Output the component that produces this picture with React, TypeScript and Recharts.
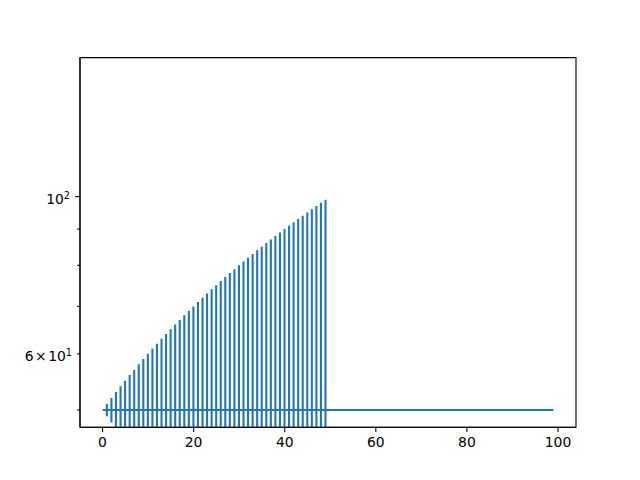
import React from 'react';
import { ComposedChart, Line, Bar, XAxis, YAxis, ReferenceArea } from 'recharts';

const xValues = [
  0, 1, 2, 3, 4, 5, 6, 7, 8, 9, 10, 11, 12, 13, 14, 15, 16, 17, 18, 19,
  20, 21, 22, 23, 24, 25, 26, 27, 28, 29, 30, 31, 32, 33, 34, 35, 36, 37, 38, 39,
  40, 41, 42, 43, 44, 45, 46, 47, 48, 49, 50, 51, 52, 53, 54, 55, 56, 57, 58, 59,
  60, 61, 62, 63, 64, 65, 66, 67, 68, 69, 70, 71, 72, 73, 74, 75, 76, 77, 78, 79,
  80, 81, 82, 83, 84, 85, 86, 87, 88, 89, 90, 91, 92, 93, 94, 95, 96, 97, 98, 99,
];

const yValues = [
  50, 50, 50, 50, 50, 50, 50, 50, 50, 50, 50, 50, 50, 50, 50, 50, 50, 50, 50, 50,
  50, 50, 50, 50, 50, 50, 50, 50, 50, 50, 50, 50, 50, 50, 50, 50, 50, 50, 50, 50,
  50, 50, 50, 50, 50, 50, 50, 50, 50, 50, 50, 50, 50, 50, 50, 50, 50, 50, 50, 50,
  50, 50, 50, 50, 50, 50, 50, 50, 50, 50, 50, 50, 50, 50, 50, 50, 50, 50, 50, 50,
  50, 50, 50, 50, 50, 50, 50, 50, 50, 50, 50, 50, 50, 50, 50, 50, 50, 50, 50, 50,
];

const yErrors = [
  0, 1, 2, 3, 4, 5, 6, 7, 8, 9, 10, 11, 12, 13, 14, 15, 16, 17, 18, 19,
  20, 21, 22, 23, 24, 25, 26, 27, 28, 29, 30, 31, 32, 33, 34, 35, 36, 37, 38, 39,
  40, 41, 42, 43, 44, 45, 46, 47, 48, 49, 0, 0, 0, 0, 0, 0, 0, 0, 0, 0,
  0, 0, 0, 0, 0, 0, 0, 0, 0, 0, 0, 0, 0, 0, 0, 0, 0, 0, 0, 0,
  0, 0, 0, 0, 0, 0, 0, 0, 0, 0, 0, 0, 0, 0, 0, 0, 0, 0, 0, 0,
];

const xTicks = [0, 20, 40, 60, 80, 100];
const yTicks = [50, 60, 70, 80, 90, 100];
const xDomain: [number, number] = [-4.95, 103.95];
const yDomain: [number, number] = [47.28, 157.1];

// error bars are drawn as ranged bars [y - err, y + err]; zero-length ones are skipped
const data = xValues.map((x, i) => ({
  x,
  y: yValues[i],
  range: yErrors[i] > 0 ? [yValues[i] - yErrors[i], yValues[i] + yErrors[i]] : null,
}));

const COLOR = '#1f77b4';
const FONT = 'DejaVu Sans';
const FS = 13.9;

const YTick = (props: any) => {
  const { x, y, payload } = props;
  const v = payload.value;
  const major = v === 100;
  const len = major ? 4.9 : 2.8;
  return (
    <g>
      <line x1={x - len} x2={x} y1={y} y2={y} stroke="#000" strokeWidth={1.1} />
      {v === 100 && (
        <text x={x - 10} y={y + 7} textAnchor="end" fontFamily={FONT} fontSize={FS} fill="#000">
          <tspan>10</tspan>
          <tspan dy={-5} fontSize={9.7}>2</tspan>
        </text>
      )}
      {v === 60 && (
        <text x={x - 8} y={y + 7.5} textAnchor="end" fontFamily={FONT} fontSize={FS} fill="#000">
          <tspan>6</tspan>
          <tspan dx={1.5}>×</tspan>
          <tspan dx={1.5}>10</tspan>
          <tspan dy={-5} fontSize={9.7}>1</tspan>
        </text>
      )}
    </g>
  );
};

export default function App() {
  return (
    <div style={{ position: 'absolute', left: 0, top: 0, width: 640, height: 480, background: '#fff' }}>
      <ComposedChart
        width={640}
        height={480}
        data={data}
        margin={{ top: 57.6, right: 64, bottom: 0, left: 0 }}
      >
        <XAxis
          dataKey="x"
          type="number"
          domain={xDomain}
          ticks={xTicks}
          allowDataOverflow
          height={52.8}
          tickSize={4.9}
          tickMargin={5}
          tickLine={{ stroke: '#000', strokeWidth: 1.1 }}
          axisLine={{ stroke: '#000', strokeWidth: 1.1 }}
          tick={{ fill: '#000', fontSize: FS, fontFamily: FONT }}
        />
        <YAxis
          type="number"
          scale="log"
          domain={yDomain}
          ticks={yTicks}
          allowDataOverflow
          width={80}
          tickSize={0}
          tickMargin={0}
          tickLine={false}
          axisLine={{ stroke: '#000', strokeWidth: 1.1 }}
          tick={<YTick />}
          interval={0}
        />
        <Bar
          dataKey="range"
          fill={COLOR}
          barSize={2.1}
          isAnimationActive={false}
          activeBar={false}
        />
        <Line
          dataKey="y"
          stroke={COLOR}
          strokeWidth={2.1}
          dot={false}
          activeDot={false}
          isAnimationActive={false}
        />
        <ReferenceArea
          x1={xDomain[0]}
          x2={xDomain[1]}
          y1={yDomain[0]}
          y2={yDomain[1]}
          fill="none"
          stroke="#000"
          strokeWidth={1.1}
          ifOverflow="visible"
        />
      </ComposedChart>
    </div>
  );
}
